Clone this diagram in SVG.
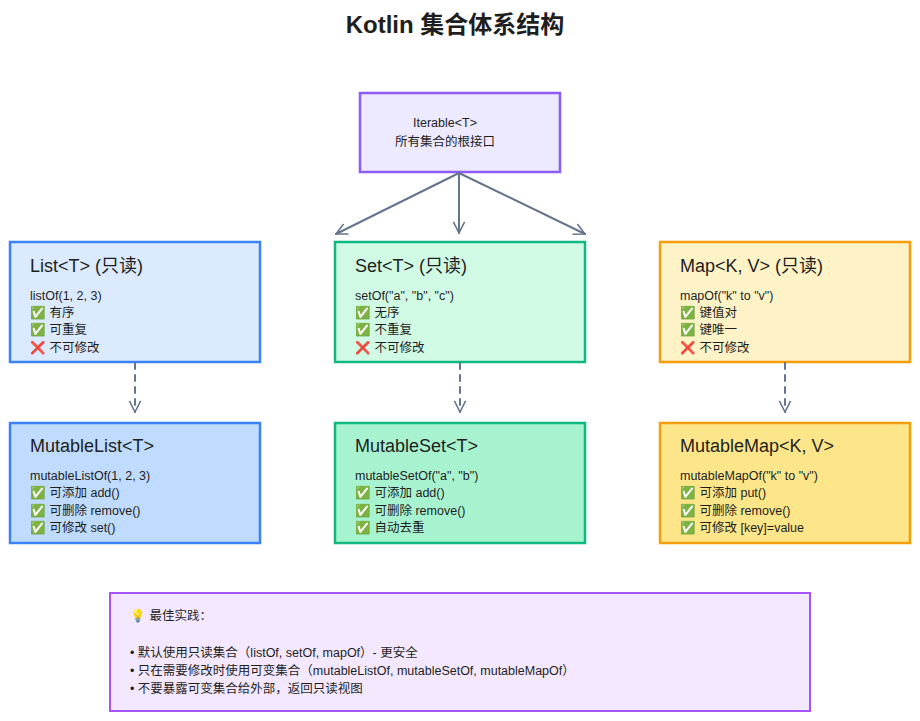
<svg xmlns="http://www.w3.org/2000/svg" width="920" height="721" viewBox="0 0 920 721">
<style>
text{font-family:"Liberation Sans","Noto Sans CJK SC",sans-serif;fill:#1e1e1e}
.t{font-size:24px;font-weight:bold}
.h{font-size:18px}
.b{font-size:12.5px}
.box{stroke-width:2.5}
.c{stroke:#64748b;stroke-width:2;fill:none;stroke-linecap:round}
.d{stroke-dasharray:6 6}
</style>
<defs>
<marker id="a" viewBox="0 0 20 20" refX="18" refY="10" markerWidth="14" markerHeight="14" markerUnits="userSpaceOnUse" orient="auto"><path d="M2,2 L18,10 L2,18" fill="none" stroke="#64748b" stroke-width="2.2"/></marker>
</defs>
<rect width="920" height="721" fill="#fff"/>
<text class="t" x="455" y="33" text-anchor="middle">Kotlin 集合体系结构</text>
<g id="iterable"><rect class="box" x="360" y="93" width="200" height="79" fill="#ede9fe" stroke="#8b5cf6"/>
<text class="b" x="445" y="127" text-anchor="middle">Iterable&lt;T&gt;</text><text class="b" x="445" y="146" text-anchor="middle">所有集合的根接口</text></g>
<g id="list"><rect class="box" x="10" y="242" width="250" height="120" fill="#dbeafe" stroke="#3b82f6"/>
<text class="h" x="30" y="272">List&lt;T&gt; (只读)</text>
<text class="b" x="30" y="300">listOf(1, 2, 3)</text><text class="b" x="30" y="317">✅ 有序</text><text class="b" x="30" y="334">✅ 可重复</text><text class="b" x="30" y="352">❌ 不可修改</text></g>
<g id="set"><rect class="box" x="335" y="242" width="250" height="120" fill="#d1fae5" stroke="#10b981"/>
<text class="h" x="355" y="272">Set&lt;T&gt; (只读)</text>
<text class="b" x="355" y="300">setOf("a", "b", "c")</text><text class="b" x="355" y="317">✅ 无序</text><text class="b" x="355" y="334">✅ 不重复</text><text class="b" x="355" y="352">❌ 不可修改</text></g>
<g id="map"><rect class="box" x="660" y="242" width="250" height="120" fill="#fef3c7" stroke="#f59e0b"/>
<text class="h" x="680" y="272">Map&lt;K, V&gt; (只读)</text>
<text class="b" x="680" y="300">mapOf("k" to "v")</text><text class="b" x="680" y="317">✅ 键值对</text><text class="b" x="680" y="334">✅ 键唯一</text><text class="b" x="680" y="352">❌ 不可修改</text></g>
<g id="mlist"><rect class="box" x="10" y="423" width="250" height="120" fill="#bfdbfe" stroke="#3b82f6"/>
<text class="h" x="30" y="452">MutableList&lt;T&gt;</text>
<text class="b" x="30" y="480">mutableListOf(1, 2, 3)</text><text class="b" x="30" y="497">✅ 可添加 add()</text><text class="b" x="30" y="515">✅ 可删除 remove()</text><text class="b" x="30" y="532">✅ 可修改 set()</text></g>
<g id="mset"><rect class="box" x="335" y="423" width="250" height="120" fill="#a7f3d0" stroke="#10b981"/>
<text class="h" x="355" y="452">MutableSet&lt;T&gt;</text>
<text class="b" x="355" y="480">mutableSetOf("a", "b")</text><text class="b" x="355" y="497">✅ 可添加 add()</text><text class="b" x="355" y="515">✅ 可删除 remove()</text><text class="b" x="355" y="532">✅ 自动去重</text></g>
<g id="mmap"><rect class="box" x="660" y="423" width="250" height="120" fill="#fde68a" stroke="#f59e0b"/>
<text class="h" x="680" y="452">MutableMap&lt;K, V&gt;</text>
<text class="b" x="680" y="480">mutableMapOf("k" to "v")</text><text class="b" x="680" y="497">✅ 可添加 put()</text><text class="b" x="680" y="515">✅ 可删除 remove()</text><text class="b" x="680" y="532">✅ 可修改 [key]=value</text></g>
<g id="tips"><rect x="110" y="593" width="700" height="118" fill="#f3e8ff" stroke="#a855f7" stroke-width="2"/>
<text class="b" x="130" y="620">💡 最佳实践：</text>
<text class="b" x="130" y="657">• 默认使用只读集合（listOf, setOf, mapOf）- 更安全</text>
<text class="b" x="130" y="675">• 只在需要修改时使用可变集合（mutableListOf, mutableSetOf, mutableMapOf）</text>
<text class="b" x="130" y="693">• 不要暴露可变集合给外部，返回只读视图</text></g>
<g id="connectors">
<path class="c" d="M459,173 L336,234" marker-end="url(#a)"/>
<path class="c" d="M459,173 L459,233" marker-end="url(#a)"/>
<path class="c" d="M459,173 L585,234" marker-end="url(#a)"/>
<path class="c d" d="M135,363 L135,412" marker-end="url(#a)"/>
<path class="c d" d="M460,363 L460,412" marker-end="url(#a)"/>
<path class="c d" d="M785,363 L785,412" marker-end="url(#a)"/>
</g>
</svg>
